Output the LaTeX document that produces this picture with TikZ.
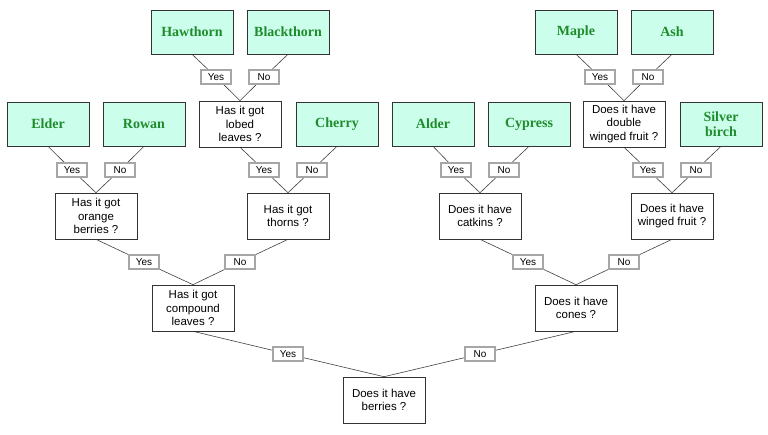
\documentclass[tikz,border=0pt]{standalone}
\usepackage{fontspec}
\usetikzlibrary{backgrounds}
\setmainfont{Liberation Sans}
\newfontfamily\leaffont{Liberation Serif}
\definecolor{leaffill}{HTML}{CCFFEB}
\definecolor{leaftext}{HTML}{1E8C2C}
\begin{document}
\begin{tikzpicture}[x=1pt,y=-1pt,
  q/.style={draw=black!80,line width=0.6pt,fill=white,minimum width=82pt,minimum height=46pt,align=center,inner sep=1pt,font=\fontsize{11.5}{13.5}\selectfont},
  leaf/.style={draw=black!80,line width=0.6pt,fill=leaffill,minimum width=82pt,minimum height=44pt,align=center,inner sep=1pt,font=\leaffont\bfseries\fontsize{14}{15}\selectfont,text=leaftext},
  lab/.style={draw=black!85,line width=0.55pt,double=gray!70,double distance=1.6pt,fill=white,minimum width=30pt,minimum height=14pt,inner sep=1pt,font=\fontsize{10}{11}\selectfont},
  ln/.style={draw=black!75,line width=0.6pt}]
\useasboundingbox (0,0) rectangle (768,435);
% questions
\node[q] (berries) at (384,400) {Does it have\\berries ?};
\node[q] (compound) at (193,308) {Has it got\\compound\\leaves ?};
\node[q] (cones) at (576,308) {Does it have\\cones ?};
\node[q] (orange) at (96,216) {Has it got\\orange\\berries ?};
\node[q] (thorns) at (288,216) {Has it got\\thorns ?};
\node[q] (catkins) at (480,216) {Does it have\\catkins ?};
\node[q] (winged) at (672,216) {Does it have\\winged fruit ?};
\node[q] (lobed) at (240,124) {Has it got\\lobed\\leaves ?};
\node[q] (double) at (624,124) {Does it have\\double\\winged fruit ?};
% leaves
\node[leaf] (elder) at (48,124) {Elder};
\node[leaf] (rowan) at (144,124) {Rowan};
\node[leaf] (cherry) at (337,124) {Cherry};
\node[leaf] (alder) at (433,124) {Alder};
\node[leaf] (cypress) at (529,124) {Cypress};
\node[leaf] (silver) at (721,124) {Silver\\birch};
\node[leaf] (hawthorn) at (192,32) {Hawthorn};
\node[leaf] (blackthorn) at (288,32) {Blackthorn};
\node[leaf] (maple) at (576,32) {Maple};
\node[leaf] (ash) at (672,32) {Ash};
% labels
\node[lab] (y0) at (288,354) {Yes};
\node[lab] (n0) at (480,354) {No};
\node[lab] (y1) at (144,262) {Yes};
\node[lab] (n1) at (240,262) {No};
\node[lab] (y2) at (528,262) {Yes};
\node[lab] (n2) at (624,262) {No};
\node[lab] (y3) at (72,170) {Yes};
\node[lab] (n3) at (120,170) {No};
\node[lab] (y4) at (264,170) {Yes};
\node[lab] (n4) at (312,170) {No};
\node[lab] (y5) at (456,170) {Yes};
\node[lab] (n5) at (504,170) {No};
\node[lab] (y6) at (648,170) {Yes};
\node[lab] (n6) at (696,170) {No};
\node[lab] (y7) at (216,77) {Yes};
\node[lab] (n7) at (264,77) {No};
\node[lab] (y8) at (600,77) {Yes};
\node[lab] (n8) at (648,77) {No};
% connectors
\begin{pgfonlayer}{background}
\foreach \c/\l/\p in {compound/y0/berries,cones/n0/berries,orange/y1/compound,thorns/n1/compound,
  catkins/y2/cones,winged/n2/cones,elder/y3/orange,rowan/n3/orange,lobed/y4/thorns,cherry/n4/thorns,
  alder/y5/catkins,cypress/n5/catkins,double/y6/winged,silver/n6/winged,hawthorn/y7/lobed,blackthorn/n7/lobed,
  maple/y8/double,ash/n8/double}{
  \draw[ln] (\c.south) -- (\l.center) -- (\p.north);
}
\end{pgfonlayer}
\end{tikzpicture}
\end{document}
